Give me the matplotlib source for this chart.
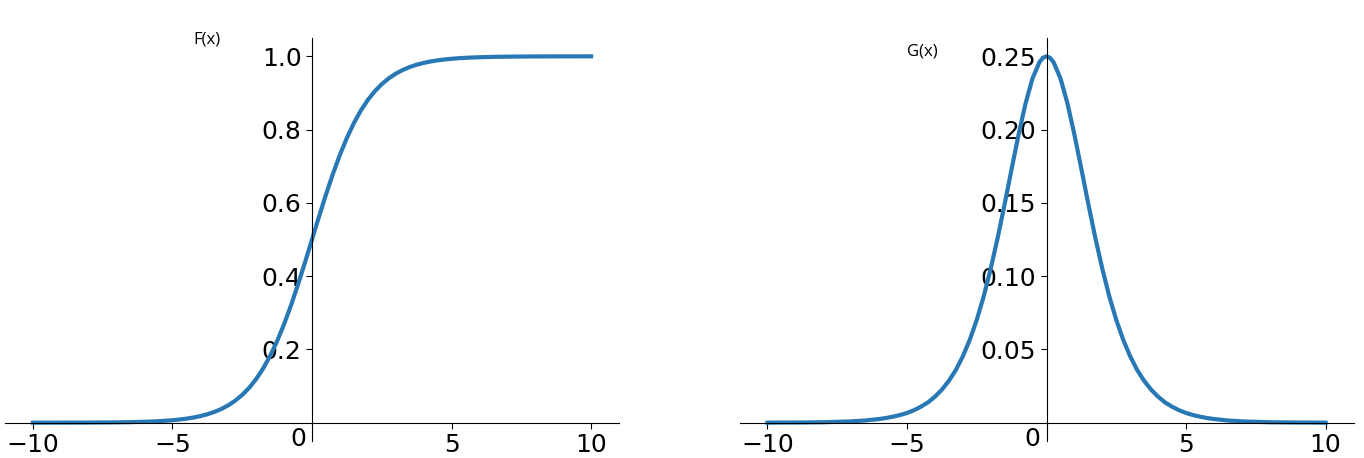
import numpy as np
from matplotlib import pyplot as plt

# sample points (finer spacing where they bend)
xs = [-10, -9.5, -9, -8.5, -8, -7.5, -7, -6.5,
      -6, -5.75, -5.5, -5.25, -5, -4.75, -4.5, -4.25, -4, -3.75, -3.5, -3.25,
      -3, -2.75, -2.5, -2.25, -2, -1.75, -1.5, -1.25, -1, -0.75, -0.5, -0.25, -0.125,
      0, 0.125, 0.25, 0.5, 0.75, 1, 1.25, 1.5, 1.75, 2, 2.25, 2.5, 2.75,
      3, 3.25, 3.5, 3.75, 4, 4.25, 4.5, 4.75, 5, 5.25, 5.5, 5.75, 6,
      6.5, 7, 7.5, 8, 8.5, 9, 9.5, 10]
F_vals = [0.0000, 0.0001, 0.0001, 0.0002, 0.0003, 0.0006, 0.0009, 0.0015,
          0.0025, 0.0032, 0.0041, 0.0052, 0.0067, 0.0086, 0.0110, 0.0140, 0.0180,
          0.0230, 0.0293, 0.0373, 0.0474, 0.0601, 0.0759, 0.0953, 0.1192, 0.1480,
          0.1824, 0.2227, 0.2689, 0.3208, 0.3775, 0.4378, 0.4688,
          0.5000, 0.5312, 0.5622, 0.6225, 0.6792, 0.7311, 0.7773, 0.8176, 0.8520, 0.8808,
          0.9047, 0.9241, 0.9399, 0.9526, 0.9627, 0.9707, 0.9770, 0.9820, 0.9860,
          0.9890, 0.9914, 0.9933, 0.9948, 0.9959, 0.9968, 0.9975,
          0.9985, 0.9991, 0.9994, 0.9997, 0.9998, 0.9999, 0.9999, 1.0000]
G_vals = [0.0000, 0.0001, 0.0001, 0.0002, 0.0003, 0.0006, 0.0009, 0.0015,
          0.0025, 0.0032, 0.0041, 0.0052, 0.0066, 0.0085, 0.0109, 0.0138, 0.0177,
          0.0225, 0.0285, 0.0359, 0.0452, 0.0565, 0.0701, 0.0862, 0.1050, 0.1261,
          0.1491, 0.1731, 0.1966, 0.2179, 0.2350, 0.2461, 0.2490,
          0.2500, 0.2490, 0.2461, 0.2350, 0.2179, 0.1966, 0.1731, 0.1491, 0.1261, 0.1050,
          0.0862, 0.0701, 0.0565, 0.0452, 0.0359, 0.0285, 0.0225, 0.0177, 0.0138,
          0.0109, 0.0085, 0.0066, 0.0052, 0.0041, 0.0032, 0.0025,
          0.0015, 0.0009, 0.0006, 0.0003, 0.0002, 0.0001, 0.0001, 0.0000]

x_ticks = [-10, -5, 5, 10]
F_ticks = [0.2, 0.4, 0.6, 0.8, 1.0]
G_ticks = [0.05, 0.10, 0.15, 0.20, 0.25]

fig = plt.figure(figsize=(13.64, 4.58), dpi=100)
ax1 = fig.add_axes([5/1364, 17/458, 614/1364, 403/458])
ax2 = fig.add_axes([739.5/1364, 17/458, 614/1364, 403/458])

def setup(ax, y, yticks, yfmt, name, name_xy):
    ax.plot(xs, y, color='#2878b5', lw=3)
    ax.set_xlim(-11, 11)
    ax.spines['top'].set_visible(False)
    ax.spines['right'].set_visible(False)
    ax.spines['left'].set_position(('data', 0))
    ax.spines['bottom'].set_position(('data', 0))
    ax.set_xticks(x_ticks)
    ax.set_yticks(yticks)
    ax.set_yticklabels([yfmt % t for t in yticks])
    ax.tick_params(labelsize=18, direction='out', length=4)
    ax.text(-0.5, -0.045 * max(y), '0', fontsize=18, ha='center', va='center')
    ax.text(name_xy[0], name_xy[1], name, fontsize=12, family='Open Sans',
            ha='center', va='center')

setup(ax1, F_vals, F_ticks, '%.1f', 'F(x)', (-3.75, 1.047))
ax1.set_ylim(-0.05, 1.05)
setup(ax2, G_vals, G_ticks, '%.2f', 'G(x)', (-4.45, 0.253))
ax2.set_ylim(-0.0125, 0.2625)

fig.savefig('out.png', dpi=100)
